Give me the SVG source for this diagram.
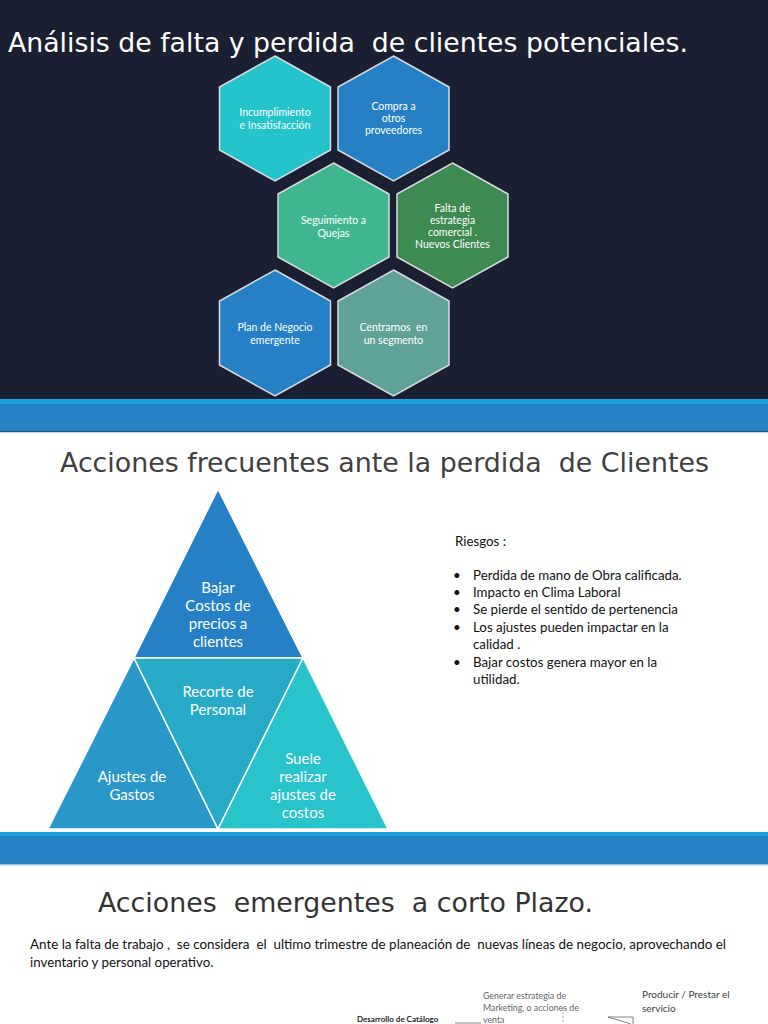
<svg xmlns="http://www.w3.org/2000/svg" width="768" height="1024" viewBox="0 0 768 1024">
<style>
text{white-space:pre;}
.title{font-family:"DejaVu Sans",sans-serif;}
.hex{stroke:#D8DCE0;stroke-width:1.5;}
.ht{font-family:"Lato","Open Sans",sans-serif;font-size:10.5px;fill:#FFFFFF;text-anchor:middle;}
.tri{stroke:#FFFFFF;stroke-width:1.5;}
.tt{font-family:"Lato","Open Sans",sans-serif;font-size:15px;fill:#FFFFFF;text-anchor:middle;}
.body{font-family:"Lato","Open Sans",sans-serif;font-size:13.3px;fill:#111111;}
</style>
<rect x="0" y="0" width="768" height="400" fill="#1B1F32"/>
<rect x="0" y="399" width="768" height="5" fill="#1AA3DF"/>
<rect x="0" y="404" width="768" height="28" fill="#2683C6"/>
<rect x="0" y="431" width="768" height="1.5" fill="#1A4F7D"/>
<rect x="0" y="432.5" width="768" height="400" fill="#FFFFFF"/>
<rect x="0" y="832" width="768" height="4" fill="#1AA3DF"/>
<rect x="0" y="836" width="768" height="28" fill="#2683C6"/>
<rect x="0" y="864" width="768" height="1.5" fill="#9CC6E6"/>

<text class="title" x="8" y="52" font-size="26.5" fill="#FFFFFF" textLength="680" lengthAdjust="spacingAndGlyphs">Análisis de falta y perdida  de clientes potenciales.</text>

<g id="hex1"><polygon class="hex" fill="#25C3CB" points="275,56 330.5,87 330.5,150 275,181 219.5,150 219.5,87"/>
<text class="ht" x="275" y="115.5">Incumplimiento</text><text class="ht" x="275" y="128.5">e Insatisfacción</text></g>
<g id="hex2"><polygon class="hex" fill="#2580C6" points="393.5,56 449,87 449,150 393.5,181 338,150 338,87"/>
<text class="ht" x="393.5" y="109.5">Compra a</text><text class="ht" x="393.5" y="121.5">otros</text><text class="ht" x="393.5" y="133.5">proveedores</text></g>
<g id="hex3"><polygon class="hex" fill="#3FB68F" points="333.5,163 389,194 389,257 333.5,288 278,257 278,194"/>
<text class="ht" x="333.5" y="224">Seguimiento a</text><text class="ht" x="333.5" y="236.5">Quejas</text></g>
<g id="hex4"><polygon class="hex" fill="#3D8A52" points="452.5,163 508,194 508,257 452.5,288 397,257 397,194"/>
<text class="ht" x="452.5" y="211.5">Falta de</text><text class="ht" x="452.5" y="223.5">estrategia</text><text class="ht" x="452.5" y="235.5">comercial .</text><text class="ht" x="452.5" y="247.5">Nuevos Clientes</text></g>
<g id="hex5"><polygon class="hex" fill="#2580C6" points="275,270 330.5,301 330.5,365 275,396 219.5,365 219.5,301"/>
<text class="ht" x="275" y="330.5">Plan de Negocio</text><text class="ht" x="275" y="343.5">emergente</text></g>
<g id="hex6"><polygon class="hex" fill="#5FA29A" points="393.5,270 449,301 449,365 393.5,396 338,365 338,301"/>
<text class="ht" x="393.5" y="330.5">Centrarnos  en</text><text class="ht" x="393.5" y="343.5">un segmento</text></g>

<text class="title" x="60" y="472" font-size="26.8" fill="#404040" textLength="649" lengthAdjust="spacingAndGlyphs">Acciones frecuentes ante la perdida  de Clientes</text>

<g id="tri-top"><polygon class="tri" fill="#2580C6" points="218,489 303,658 134,658"/>
<text class="tt" x="218" y="593">Bajar</text><text class="tt" x="218" y="611">Costos de</text><text class="tt" x="218" y="629">precios a</text><text class="tt" x="218" y="647">clientes</text></g>
<g id="tri-left"><polygon class="tri" fill="#2A97C9" points="134,658 218,829 48,829"/>
<text class="tt" x="132" y="782">Ajustes de</text><text class="tt" x="132" y="800">Gastos</text></g>
<g id="tri-mid"><polygon class="tri" fill="#26AAC8" points="134,658 303,658 218,829"/>
<text class="tt" x="218" y="697">Recorte de</text><text class="tt" x="218" y="715">Personal</text></g>
<g id="tri-right"><polygon class="tri" fill="#28C3CB" points="303,658 388,829 218,829"/>
<text class="tt" x="303" y="764">Suele</text><text class="tt" x="303" y="782">realizar</text><text class="tt" x="303" y="800">ajustes de</text><text class="tt" x="303" y="818">costos</text></g>

<g id="riesgos" class="body">
<text x="455" y="545.5">Riesgos :</text>
<text x="453" y="579.5">•</text><text x="473" y="579.5">Perdida de mano de Obra calificada.</text>
<text x="453" y="596.5">•</text><text x="473" y="596.5">Impacto en Clima Laboral</text>
<text x="453" y="613.5">•</text><text x="473" y="613.5">Se pierde el sentido de pertenencia</text>
<text x="453" y="631.5">•</text><text x="473" y="631.5">Los ajustes pueden impactar en la</text>
<text x="473" y="648.5">calidad .</text>
<text x="453" y="666.5">•</text><text x="473" y="666.5">Bajar costos genera mayor en la</text>
<text x="473" y="683.5">utilidad.</text>
</g>

<text class="title" x="98" y="912" font-size="26.8" fill="#333333" textLength="495" lengthAdjust="spacingAndGlyphs">Acciones  emergentes  a corto Plazo.</text>
<g class="body">
<text x="30" y="948.5" textLength="696" lengthAdjust="spacingAndGlyphs">Ante la falta de trabajo ,  se considera  el  ultimo trimestre de planeación de  nuevas líneas de negocio, aprovechando el</text>
<text x="30" y="966.5">inventario y personal operativo.</text>
</g>

<g id="bottom-nodes">
<text x="357" y="1022" font-family="Lato,'Open Sans',sans-serif" font-size="8" font-weight="bold" fill="#222222">Desarrollo de Catálogo</text>
<g font-family="Lato,'Open Sans',sans-serif" font-size="8.8" fill="#666666">
<text x="483" y="999">Generar estrategia de</text>
<text x="483" y="1011">Marketing, o acciones de</text>
<text x="483" y="1023">venta</text>
</g>
<g font-family="Lato,'Open Sans',sans-serif" font-size="10" fill="#404040">
<text x="642" y="998">Producir / Prestar el</text>
<text x="642" y="1012">servicio</text>
</g>
</g>
<g id="connectors" fill="none" stroke="#666666" stroke-width="0.8">
<line x1="455" y1="1023" x2="481" y2="1023"/>
<line x1="563" y1="1008" x2="563" y2="1024" stroke-dasharray="2,2" stroke-width="0.6"/>
<polyline points="608,1017 633,1017 633,1024"/>
<line x1="608" y1="1017" x2="631" y2="1024"/>
</g>
</svg>
